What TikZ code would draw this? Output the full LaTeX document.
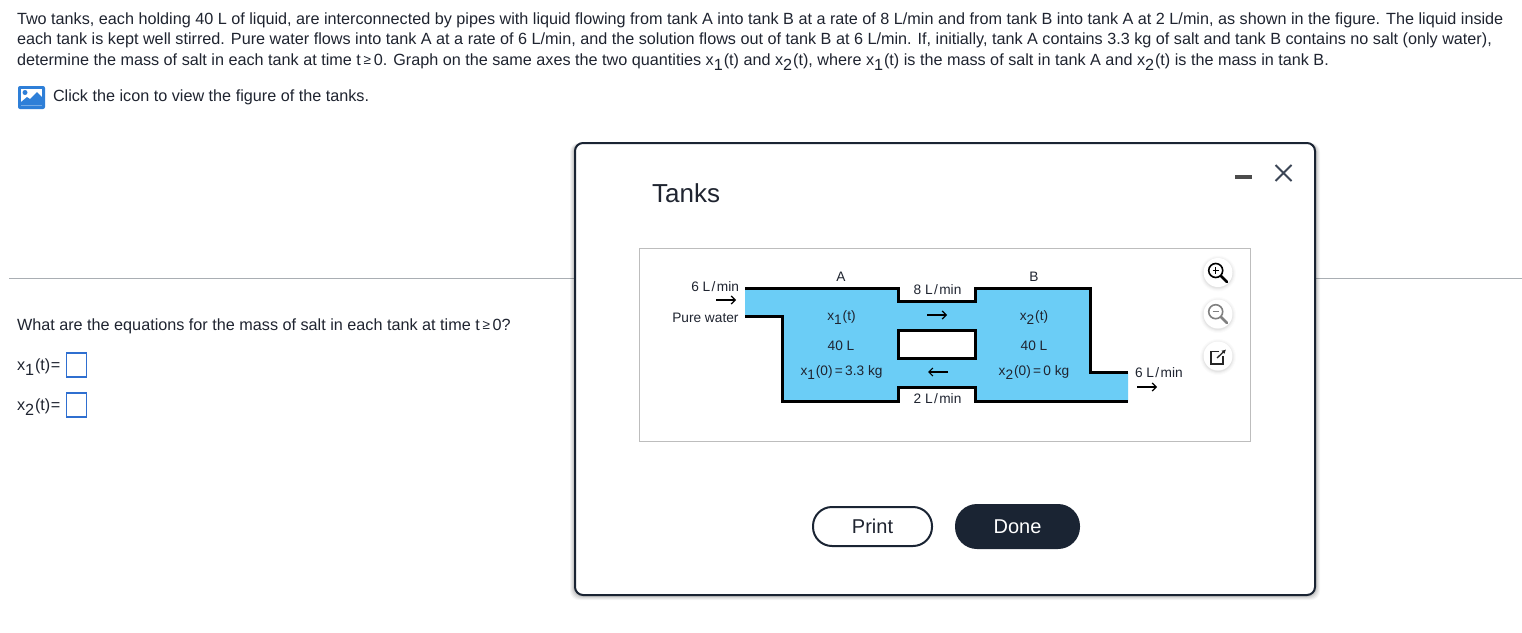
\documentclass[tikz,border=0pt]{standalone}
\usepackage{fontspec}
\setmainfont{Liberation Sans}
\usetikzlibrary{arrows.meta}
\definecolor{tankblue}{HTML}{6BCDF6}
\definecolor{ink}{HTML}{1F2430}
\definecolor{framegray}{HTML}{BDBDBD}
\definecolor{rulegray}{HTML}{A9AEB3}
\definecolor{dark}{HTML}{1A2433}
\definecolor{link}{HTML}{2F6FD0}
\definecolor{iconblue}{HTML}{2E7FD8}
\definecolor{slate}{HTML}{3C4656}
\newcommand{\sbx}[1]{\raisebox{-0.32em}{#1}\kern0.9pt}
\newcommand{\qtxt}{\fontsize{16.2}{19}\selectfont}
\newcommand{\figtxt}{\fontsize{13.7}{16}\selectfont}
\newcommand{\geqsym}{\raisebox{0.02em}{\fontsize{13.5}{13.5}\selectfont ≥}}
\newcommand{\lmin}[1]{#1 L\kern1.4pt/\kern1.4pt min}
\tikzset{
  qline/.style={anchor=base west,inner sep=0pt,outer sep=0pt,font=\qtxt,text=ink},
  figlabel/.style={anchor=base,inner sep=0pt,outer sep=0pt,font=\figtxt,text=ink},
  flow/.style={-{Straight Barb[length=4pt,width=8pt]},line width=1.2pt,black},
  wall/.style={line width=3pt,black,line cap=butt,line join=miter},
  answerbox/.style={draw=link,line width=1.2pt,fill=white,inner sep=0pt,minimum width=20pt,minimum height=24pt},
  toolbtn/.style={circle,fill=white,minimum size=29pt,inner sep=0pt},
}
\begin{document}
\begin{tikzpicture}[x=1pt,y=-1pt]
\useasboundingbox (0,0) rectangle (1522,632);
\fill[white] (0,0) rectangle (1522,632);
% question text
\node[qline] (l1) at (17,24) {Two tanks, each holding 40 L of liquid, are interconnected by pipes with liquid flowing from tank A into tank B at a rate of 8 L/min and from tank B into tank A at 2 L/min, as shown in the figure. The liquid inside};
\node[qline] (l2) at (17,44.5) {each tank is kept well stirred. Pure water flows into tank A at a rate of 6 L/min, and the solution flows out of tank B at 6 L/min. If, initially, tank A contains 3.3 kg of salt and tank B contains no salt (only water),};
\node[qline] (l3) at (17,65) {determine the mass of salt in each tank at time t\,\geqsym\,0. Graph on the same axes the two quantities x\sbx{1}(t) and x\sbx{2}(t), where x\sbx{1}(t) is the mass of salt in tank A and x\sbx{2}(t) is the mass in tank B.};
% image icon
\fill[iconblue,rounded corners=2pt] (18,86) rectangle (45,109);
\fill[white] (21,89) rectangle (42,105.5);
\fill[iconblue] (21,105.5) -- (21,102) -- (27,97) -- (30,99) -- (37,92) -- (42,97) -- (42,105.5) -- cycle;
\fill[iconblue] (25,92.5) circle (2.5);
\node[qline] (click) at (53,101) {Click the icon to view the figure of the tanks.};
% rule
\draw[rulegray,line width=0.8pt] (9,278.5) -- (576,278.5);
\draw[rulegray,line width=0.8pt] (1314,278.5) -- (1522,278.5);
% lower question
\node[qline] (ask) at (17,330) {What are the equations for the mass of salt in each tank at time t\,\geqsym\,0?};
\node[qline] (eq1) at (17,370) {x\sbx{1}(t)\kern0.6pt=};
\node[answerbox] (ans1) at (76.5,365) {};
\node[qline] (eq2) at (17,410) {x\sbx{2}(t)\kern0.6pt=};
\node[answerbox] (ans2) at (76.5,405) {};
% dialog
\foreach \o/\a in {5/0.04,4/0.05,3/0.06,2/0.08}
  \fill[black,opacity=\a,rounded corners=9pt] (575-\o,143) rectangle (1315+\o,595+\o);
\draw[fill=white,draw=dark,line width=2pt,rounded corners=8pt] (575,143) rectangle (1315,595);
\node[anchor=base west,inner sep=0pt,font=\fontsize{26}{30}\selectfont,text=ink] (title) at (652,202) {Tanks};
% window controls
\fill[black!70] (1235,174.5) rectangle (1252,179);
\draw[slate,line width=2pt] (1275.5,165) -- (1291.5,181) (1291.5,165) -- (1275.5,181);
% figure frame
\draw[framegray,line width=0.8pt] (639.5,248.5) rectangle (1250.5,441.5);
% tanks
\fill[tankblue] (745,288) -- (898,288) -- (898,301) -- (975,301) -- (975,288) -- (1090,288) -- (1090,372.5) -- (1128,372.5) -- (1128,401.5) -- (975,401.5) -- (975,387) -- (898,387) -- (898,401.5) -- (782,401.5) -- (782,316) -- (745,316) -- cycle;
\draw[wall,fill=white] (898,330) rectangle (975,358);
\draw[wall] (745,288) -- (898,288) -- (898,301) -- (975,301) -- (975,288) -- (1090,288) -- (1090,372.5) -- (1128,372.5);
\draw[wall] (745,316) -- (782,316) -- (782,401.5) -- (898,401.5) -- (898,387) -- (975,387) -- (975,401.5) -- (1128,401.5);
% labels
\node[figlabel] (labA) at (841,281.5) {A};
\node[figlabel] (labB) at (1034,281.5) {B};
\node[figlabel,anchor=base east] (inrate) at (739,291) {\lmin{6}};
\node[figlabel,anchor=base east] (pure) at (738.5,322) {Pure water};
\node[figlabel] (top) at (937.5,294) {\lmin{8}};
\node[figlabel] (bot) at (937.5,403) {\lmin{2}};
\node[figlabel] (xa) at (841.5,320.5) {x\sbx{1}(t)};
\node[figlabel] (va) at (841,350) {40 L};
\node[figlabel] (ia) at (841.5,375.5) {x\sbx{1}(0)\,=\,3.3 kg};
\node[figlabel] (xb) at (1034,320.5) {x\sbx{2}(t)};
\node[figlabel] (vb) at (1034,350) {40 L};
\node[figlabel] (ib) at (1034,375.5) {x\sbx{2}(0)\,=\,0 kg};
\node[figlabel,anchor=base west] (outrate) at (1135,377) {\lmin{6}};
% flow arrows
\coordinate (a1s) at (716,300); \coordinate (a1e) at (736,300);
\coordinate (a2s) at (927,315); \coordinate (a2e) at (947,315);
\coordinate (a3s) at (948,372); \coordinate (a3e) at (928,372);
\coordinate (a4s) at (1137,387); \coordinate (a4e) at (1157,387);
\draw[flow] (a1s) -- (a1e);
\draw[flow] (a2s) -- (a2e);
\draw[flow] (a3s) -- (a3e);
\draw[flow] (a4s) -- (a4e);
% tool buttons
\foreach \y in {272.5,314,356}{
  \foreach \r/\a in {18/0.015,17/0.02,16/0.03,15/0.04} \fill[black,opacity=\a] (1218,\y+1) circle (\r);
}
\node[toolbtn] (zin) at (1218,272.5) {};
\draw[black,line width=1.6pt] (1215.7,270.5) circle (7);
\draw[black,line width=2.6pt,line cap=round] (1221,276) -- (1227,282);
\draw[black,line width=1.1pt] (1212.5,270.5) -- (1219,270.5) (1215.7,267.3) -- (1215.7,273.7);
\node[toolbtn] (zout) at (1218,314) {};
\draw[black!50,line width=1.6pt] (1215.7,311.7) circle (7);
\draw[black!50,line width=2.6pt,line cap=round] (1221,317) -- (1227,323);
\draw[black!50,line width=1.1pt] (1212.5,311.7) -- (1219,311.7);
\node[toolbtn] (ext) at (1218,356) {};
\draw[black!85,line width=1.3pt] (1219,351.7) -- (1211,351.7) -- (1211,364) -- (1223,364) -- (1223,356);
\draw[black!85,line width=1.3pt,-{Latex[length=4pt,width=4.5pt]}] (1217,358) -- (1226,349.5);
% buttons
\node[draw=dark,line width=2pt,fill=white,rounded corners=19pt,minimum width=119pt,minimum height=39pt,inner sep=0pt,font=\fontsize{20}{24}\selectfont,text=ink] (print) at (872.5,526.5) {Print};
\node[fill=dark,rounded corners=22pt,minimum width=125pt,minimum height=45pt,inner sep=0pt,font=\fontsize{20}{24}\selectfont,text=white] (done) at (1017.5,526.5) {Done};
\end{tikzpicture}
\end{document}
